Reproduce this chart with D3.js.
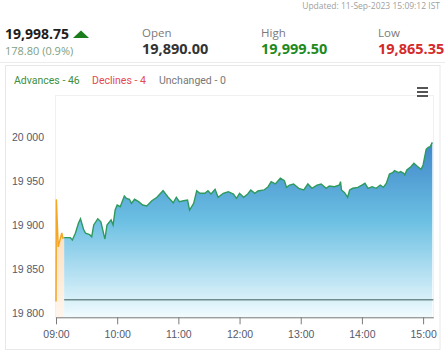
<!DOCTYPE html>
<html><head><meta charset="utf-8">
<script src="https://cdn.jsdelivr.net/npm/d3@7"></script>
<style>
html,body{margin:0;padding:0;background:#fff;}
svg{display:block;}
</style></head>
<body>
<svg id="chart" width="445" height="351"></svg>
<script>
// ---- data ----
const indexValue = "19,998.75";
const indexChange = "178.80 (0.9%)";
const openValue = "19,890.00";
const highValue = "19,999.50";
const lowValue = "19,865.35";
const updatedText = "Updated: 11-Sep-2023 15:09:12 IST";
const breadthLabels = ["Advances - 46", "Declines - 4", "Unchanged - 0"];
const prevClose = 19819.95;

const preOpenTimes = ["09:00:00","09:00:20","09:02:10","09:05:40","09:06:40","09:08:00"];
const preOpenValues = [19818, 19934, 19880, 19896, 19890, 19890.5];

const sessionTimes = ["09:08","09:14","09:16","09:19","09:22","09:24","09:27","09:29","09:33","09:35",
"09:37","09:41","09:44","09:47","09:48","09:50","09:54","09:56","09:58","10:00",
"10:03","10:07","10:09","10:12","10:14","10:17","10:21","10:25","10:29","10:34",
"10:39","10:45","10:50","10:55","10:58","11:01","11:05","11:09","11:11","11:15",
"11:18","11:21","11:26","11:29","11:32","11:36","11:39","11:44","11:49","11:54",
"11:57","12:00","12:04","12:08","12:11","12:15","12:18","12:24","12:28","12:31",
"12:35","12:37","12:40","12:44","12:46","12:49","12:53","12:58","13:03","13:07",
"13:11","13:16","13:20","13:25","13:28","13:33","13:38","13:39","13:40","13:43",
"13:46","13:48","13:51","13:56","14:00","14:03","14:06","14:10","14:14","14:18",
"14:21","14:24","14:27","14:30","14:32","14:36","14:38","14:41","14:42","14:44",
"14:48","14:51","14:54","14:58","15:00","15:03","15:05","15:07","15:09"];
const sessionValues = [19890.5,19890.5,19887.8,19895.5,19906.8,19912.0,19900.0,19895.5,19893.9,19891.6,
19904.9,19912.0,19908.6,19893.5,19889.0,19904.9,19910.6,19904.9,19921.9,19927.6,
19925.7,19937.8,19935.2,19934.1,19929.5,19934.1,19931.4,19927.6,19926.5,19932.5,
19936.4,19943.9,19936.4,19930.2,19936.4,19931.4,19932.5,19933.3,19921.9,19929.5,
19943.9,19940.9,19940.9,19943.9,19940.1,19945.5,19936.4,19940.9,19942.7,19940.1,
19935.2,19940.9,19936.4,19940.1,19944.7,19940.9,19943.5,19944.7,19948.4,19954.1,
19951.5,19954.1,19958.0,19955.2,19947.7,19950.3,19951.5,19946.6,19944.7,19951.5,
19946.6,19950.3,19951.5,19946.6,19949.2,19948.4,19950.3,19954.1,19944.7,19941.6,
19936.4,19944.7,19946.6,19947.7,19950.3,19952.3,19946.6,19948.4,19946.6,19950.3,
19947.7,19952.3,19962.8,19964.3,19966.6,19964.3,19965.5,19963.6,19961.7,19967.4,
19971.1,19975.0,19971.9,19968.2,19973.1,19990.9,19993.2,19993.9,19998.75];

const yTicks = [19800, 19850, 19900, 19950, 20000];
const xTickLabels = ["09:00","10:00","11:00","12:00","13:00","14:00","15:00"];

// ---- setup ----
const svg = d3.select("#chart");
const day = "2023-09-11T";
const parse = s => new Date(day + (s.length === 5 ? s + ":00" : s));

const x = d3.scaleTime().domain([parse("09:00"), parse("15:10")]).range([56, 433.3]);
const y = d3.scaleLinear().domain([19800, 20050]).range([317.3, 97.3]);

const pre = preOpenTimes.map((t,i)=>({t:parse(t), v:preOpenValues[i]}));
const ses = sessionTimes.map((t,i)=>({t:parse(t), v:sessionValues[i]}));

const defs = svg.append("defs");
const g1 = defs.append("linearGradient").attr("id","blueGrad").attr("x1",0).attr("y1",0).attr("x2",0).attr("y2",1);
g1.append("stop").attr("offset","0%").attr("stop-color","#3f86c9");
g1.append("stop").attr("offset","45%").attr("stop-color","#6cc0e3");
g1.append("stop").attr("offset","100%").attr("stop-color","#f1fbfe");
const g2 = defs.append("linearGradient").attr("id","orGrad").attr("x1",0).attr("y1",0).attr("x2",0).attr("y2",1);
g2.append("stop").attr("offset","0%").attr("stop-color","#fbcf9f");
g2.append("stop").attr("offset","100%").attr("stop-color","#fff4ea");

// header
const hf = "'Open Sans', 'DejaVu Sans', sans-serif";
svg.append("text").attr("x",440).attr("y",9).attr("text-anchor","end")
  .attr("font-family",hf).attr("font-size",8.5).attr("fill","#a0a0a0").text(updatedText);
svg.append("text").attr("x",5).attr("y",38.5).attr("font-family",hf).attr("font-weight",700)
  .attr("font-size",14).attr("fill","#1e1e1e").text(indexValue);
svg.append("path").attr("d","M73,38 L81,30.5 L89,38 Z").attr("fill","#1c7d1c");
svg.append("text").attr("x",5).attr("y",55).attr("font-family",hf)
  .attr("font-size",11).attr("fill","#7f9f7f").text(indexChange);

const cols = [
  {x:142, label:"Open", val:openValue, c:"#333333"},
  {x:261, label:"High", val:highValue, c:"#1e8a1e"},
  {x:378, label:"Low", val:lowValue, c:"#d42a2a"}
];
cols.forEach(d=>{
  svg.append("text").attr("x",d.x).attr("y",37).attr("font-family",hf)
    .attr("font-size",11.5).attr("fill","#7a7a7a").text(d.label);
  svg.append("text").attr("x",d.x).attr("y",54).attr("font-family",hf).attr("font-weight",700)
    .attr("font-size",14.5).attr("fill",d.c).text(d.val);
});
svg.append("line").attr("x1",0).attr("x2",445).attr("y1",62.5).attr("y2",62.5).attr("stroke","#ececec");

// card
svg.append("rect").attr("x",5.5).attr("y",65.5).attr("width",434.5).attr("height",284)
  .attr("fill","#fff").attr("stroke","#e8e8e8");

// breadth legend
const lf = "Roboto, 'Liberation Sans', sans-serif";
const bcols = ["#3d8f3d","#e24a52","#777777"];
const bx = [14, 92, 159];
breadthLabels.forEach((t,i)=>{
  svg.append("text").attr("x",bx[i]).attr("y",84).attr("font-family",lf)
    .attr("font-size",10.5).attr("fill",bcols[i]).text(t);
});

// plot frame
svg.append("rect").attr("x",55.5).attr("y",95.5).attr("width",378).attr("height",222)
  .attr("fill","#fff").attr("stroke","#f0f0f0");

// menu icon
[88,92,96].forEach(yy=>{
  svg.append("line").attr("x1",417).attr("x2",428).attr("y1",yy).attr("y2",yy)
    .attr("stroke","#555").attr("stroke-width",2);
});

// pre-open area
const areaGen = d3.area().x(d=>x(d.t)).y0(y(19800)).y1(d=>y(d.v));
const lineGen = d3.line().x(d=>x(d.t)).y(d=>y(d.v));
svg.append("path").datum(pre).attr("d",areaGen).attr("fill","url(#orGrad)").attr("opacity",0.85);
svg.append("path").datum(pre).attr("d",lineGen).attr("fill","none").attr("stroke","#f5a623").attr("stroke-width",1.5);

// session area
svg.append("path").datum(ses).attr("d",areaGen).attr("fill","url(#blueGrad)");

// prev close line
svg.append("line").attr("x1",x(ses[0].t)).attr("x2",433.3)
  .attr("y1",y(prevClose)).attr("y2",y(prevClose)).attr("stroke","#6f8b8b").attr("stroke-width",1.3);

svg.append("path").datum(ses).attr("d",lineGen).attr("fill","none").attr("stroke","#2e9a5e").attr("stroke-width",1.4);

// axes
const fmt = d3.formatLocale({decimal:".", thousands:" ", grouping:[3], currency:["",""]}).format(",");
const yAxis = svg.append("g").attr("transform","translate(56,0)")
  .call(d3.axisLeft(y).tickValues(yTicks).tickSize(0).tickPadding(12).tickFormat(fmt));
yAxis.select(".domain").remove();
yAxis.selectAll("text").attr("font-family","'Liberation Sans', Arial, sans-serif").attr("font-size",10.5)
  .attr("fill","#555a6a").attr("dy","-0.1em");

const xTicks = xTickLabels.map(parse);
const xAxis = svg.append("g").attr("transform","translate(0,317.3)")
  .call(d3.axisBottom(x).tickValues(xTicks).tickSize(7).tickSizeOuter(0).tickPadding(6).tickFormat(d3.timeFormat("%H:%M")));
xAxis.select(".domain").attr("stroke","#7a7a7a");
xAxis.selectAll(".tick line").attr("stroke","#7a7a7a");
xAxis.selectAll("text").attr("font-family","'Liberation Sans', Arial, sans-serif").attr("font-size",10.5)
  .attr("fill","#555a6a");
</script>
</body></html>
